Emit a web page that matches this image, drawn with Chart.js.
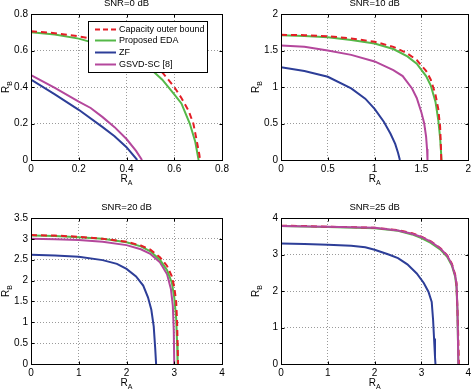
<!DOCTYPE html>
<html>
<head>
<meta charset="utf-8">
<script src="https://cdn.jsdelivr.net/npm/chart.js@4"></script>
<style>
  body { margin: 0; background: #fff; }
  #wrap { position: relative; width: 474px; height: 389px; overflow: hidden; }
  .cell { position: absolute; }
</style>
</head>
<body>
<div id="wrap">
  <div class="cell" style="left:0;top:0"><canvas id="c0" width="237" height="195"></canvas></div>
  <div class="cell" style="left:237px;top:0"><canvas id="c1" width="237" height="195"></canvas></div>
  <div class="cell" style="left:0;top:195px"><canvas id="c2" width="237" height="194"></canvas></div>
  <div class="cell" style="left:237px;top:195px"><canvas id="c3" width="237" height="194"></canvas></div>
</div>
<script>
// series labels / colours
const seriesNames = ['Capacity outer bound', 'Proposed EDA', 'ZF', 'GSVD-SC [8]'];
const seriesColors = ['#e41e26', '#55b848', '#2d3e98', '#b4479c'];
const snrTitles = ['SNR=0 dB', 'SNR=10 dB', 'SNR=20 dB', 'SNR=25 dB'];
const axisMax = [[0.8, 0.8], [2, 2], [4, 3.5], [4, 4]];
const axisStep = [[0.2, 0.2], [0.5, 0.5], [1, 0.5], [1, 1]];

// SNR = 0 dB  [R_A, R_B]
const cap0 = [[0,0.705],[0.1,0.695],[0.2,0.678],[0.3,0.652],[0.4,0.612],[0.45,0.582],[0.5,0.54],[0.55,0.48],[0.6,0.40],[0.63,0.34],[0.66,0.27],[0.68,0.2],[0.695,0.1],[0.705,0.03],[0.708,0]];
const eda0 = [[0,0.7],[0.1,0.688],[0.2,0.665],[0.3,0.628],[0.4,0.58],[0.45,0.548],[0.5,0.5],[0.55,0.44],[0.6,0.36],[0.63,0.31],[0.665,0.2],[0.688,0.1],[0.702,0]];
const zf0 = [[0,0.44],[0.1,0.36],[0.2,0.275],[0.3,0.18],[0.35,0.13],[0.4,0.07],[0.445,0]];
const gsvd0 = [[0,0.465],[0.1,0.395],[0.2,0.32],[0.25,0.285],[0.3,0.235],[0.35,0.18],[0.4,0.115],[0.44,0.05],[0.465,0]];

// SNR = 10 dB
const cap10 = [[0,1.715],[0.25,1.71],[0.5,1.695],[0.75,1.665],[1,1.62],[1.2,1.55],[1.35,1.46],[1.45,1.37],[1.55,1.22],[1.6,1.1],[1.65,0.9],[1.68,0.7],[1.7,0.45],[1.708,0.2],[1.712,0]];
const eda10 = [[0,1.71],[0.25,1.7],[0.5,1.68],[0.75,1.645],[1,1.595],[1.2,1.52],[1.35,1.42],[1.45,1.32],[1.55,1.15],[1.6,1.02],[1.65,0.8],[1.68,0.55],[1.7,0.3],[1.715,0]];
const zf10 = [[0,1.27],[0.25,1.22],[0.5,1.14],[0.75,0.98],[0.9,0.84],[1,0.7],[1.1,0.52],[1.17,0.36],[1.22,0.22],[1.25,0.1],[1.27,0]];
const gsvd10 = [[0,1.57],[0.25,1.55],[0.5,1.5],[0.75,1.44],[1,1.35],[1.2,1.23],[1.3,1.15],[1.4,0.98],[1.45,0.85],[1.5,0.65],[1.53,0.5],[1.55,0.32],[1.56,0.15],[1.565,0]];

// SNR = 20 dB
const cap20 = [[0,3.09],[0.5,3.08],[1,3.05],[1.5,3.0],[2,2.93],[2.3,2.84],[2.5,2.74],[2.7,2.56],[2.85,2.35],[2.95,2.1],[3.0,1.85],[3.04,1.5],[3.06,1.0],[3.07,0.5],[3.08,0]];
const eda20 = [[0,3.08],[0.5,3.07],[1,3.04],[1.5,3.0],[2,2.92],[2.3,2.82],[2.5,2.7],[2.7,2.5],[2.85,2.25],[2.95,1.95],[3.0,1.6],[3.04,1.1],[3.06,0.5],[3.07,0]];
const zf20 = [[0,2.62],[0.5,2.6],[1,2.57],[1.5,2.49],[1.8,2.4],[2,2.28],[2.2,2.1],[2.35,1.88],[2.45,1.6],[2.52,1.3],[2.57,0.9],[2.6,0.4],[2.62,0]];
const gsvd20 = [[0,3.0],[0.5,2.99],[1,2.97],[1.5,2.93],[2,2.85],[2.3,2.75],[2.5,2.64],[2.7,2.44],[2.85,2.15],[2.93,1.8],[2.97,1.4],[2.99,0.8],[3.0,0]];

// SNR = 25 dB
const cap25 = [[0,3.79],[0.5,3.78],[1,3.76],[1.5,3.75],[2,3.73],[2.5,3.67],[2.8,3.58],[3,3.49],[3.2,3.36],[3.4,3.18],[3.55,2.98],[3.65,2.75],[3.72,2.45],[3.75,2.2],[3.77,1.5],[3.79,0.6],[3.8,0]];
const eda25 = [[0,3.78],[1,3.75],[2,3.72],[2.5,3.65],[2.8,3.55],[3,3.45],[3.2,3.32],[3.4,3.14],[3.55,2.94],[3.65,2.7],[3.72,2.4],[3.75,2.1],[3.77,1.4],[3.79,0]];
const zf25 = [[0,3.3],[0.5,3.29],[1,3.27],[1.5,3.24],[1.8,3.2],[2,3.13],[2.3,3.0],[2.5,2.9],[2.7,2.73],[2.9,2.48],[3.05,2.22],[3.15,1.98],[3.22,1.7],[3.25,1.2],[3.27,0.7],[3.29,0.2],[3.3,0]];
const gsvd25 = [[0,3.78],[1,3.76],[2,3.73],[2.5,3.66],[2.8,3.57],[3,3.48],[3.2,3.35],[3.4,3.17],[3.55,2.97],[3.65,2.73],[3.72,2.43],[3.75,2.2],[3.77,1.5],[3.79,0]];

const panelCurves = [
  [cap0, eda0, zf0, gsvd0],
  [cap10, eda10, zf10, gsvd10],
  [cap20, eda20, zf20, gsvd20],
  [cap25, eda25, zf25, gsvd25]
];

const FONT = '"Liberation Sans", Arial, Helvetica, sans-serif';

// label with a subscript, e.g. R_A
function drawSubLabel(ctx, main, sub, x, y, rot) {
  ctx.save();
  ctx.translate(x, y);
  ctx.rotate(rot);
  ctx.font = '10px ' + FONT;
  const wm = ctx.measureText(main).width;
  ctx.font = '7px ' + FONT;
  const ws = ctx.measureText(sub).width;
  const start = -(wm + ws) / 2;
  ctx.textAlign = 'left';
  ctx.textBaseline = 'alphabetic';
  ctx.font = '10px ' + FONT;
  ctx.fillText(main, start, 0);
  ctx.font = '7px ' + FONT;
  ctx.fillText(sub, start + wm, 3);
  ctx.restore();
}

// matlab style ticks: 2 not 2.0
function fmtTick(v) {
  return String(+v.toFixed(2));
}

// box, inner ticks, title, axis labels, legend (matlab look)
const decor = {
  id: 'decor',
  afterDraw(chart) {
    const ctx = chart.ctx;
    const a = chart.chartArea;
    const o = chart.options.plugins.decor;
    const xs = chart.scales.x;
    const ys = chart.scales.y;
    ctx.save();
    ctx.strokeStyle = '#000';
    ctx.lineWidth = 1;
    const L = Math.round(a.left) + 0.5, T = Math.round(a.top) + 0.5;
    const R = Math.round(a.right) + 0.5, B = Math.round(a.bottom) + 0.5;
    ctx.strokeRect(L, T, R - L, B - T);
    ctx.beginPath();
    xs.ticks.forEach(t => {
      const px = Math.round(xs.getPixelForValue(t.value)) + 0.5;
      ctx.moveTo(px, B); ctx.lineTo(px, B - 3);
      ctx.moveTo(px, T); ctx.lineTo(px, T + 3);
    });
    ys.ticks.forEach(t => {
      const py = Math.round(ys.getPixelForValue(t.value)) + 0.5;
      ctx.moveTo(L, py); ctx.lineTo(L + 3, py);
      ctx.moveTo(R, py); ctx.lineTo(R - 3, py);
    });
    ctx.stroke();

    ctx.fillStyle = '#000';
    ctx.font = '9.5px ' + FONT;
    ctx.textAlign = 'center';
    ctx.textBaseline = 'alphabetic';
    ctx.fillText(o.title, (a.left + a.right) / 2, a.top - 8);

    drawSubLabel(ctx, 'R', 'A', (a.left + a.right) / 2, a.bottom + 22, 0);
    drawSubLabel(ctx, 'R', 'B', a.left - 22, (a.top + a.bottom) / 2, -Math.PI / 2);

    if (o.legend) {
      const lg = o.legend;
      ctx.fillStyle = '#fff';
      ctx.fillRect(lg.x, lg.y, lg.w, lg.h);
      ctx.strokeStyle = '#000';
      ctx.strokeRect(lg.x + 0.5, lg.y + 0.5, lg.w, lg.h);
      ctx.font = '9px ' + FONT;
      ctx.textAlign = 'left';
      ctx.textBaseline = 'middle';
      seriesNames.forEach((name, i) => {
        const yy = Math.round(lg.y + 7.5 + i * 11.7) + 0.5;
        ctx.strokeStyle = seriesColors[i];
        ctx.lineWidth = 2;
        ctx.setLineDash(i === 0 ? [5, 3] : []);
        ctx.beginPath();
        ctx.moveTo(lg.x + 7, yy);
        ctx.lineTo(lg.x + 28, yy);
        ctx.stroke();
        ctx.setLineDash([]);
        ctx.fillStyle = '#000';
        ctx.fillText(name, lg.x + 31, yy);
      });
    }
    ctx.restore();
  }
};

const layouts = [
  { yw: 31, xh: 35, pad: { left: 0, right: 15, top: 14, bottom: 0 } },
  { yw: 44, xh: 35, pad: { left: 0, right: 4, top: 14, bottom: 0 } },
  { yw: 31, xh: 25, pad: { left: 0, right: 15, top: 23, bottom: 0 } },
  { yw: 44, xh: 25, pad: { left: 0, right: 4, top: 23, bottom: 0 } }
];

panelCurves.forEach(function(curves, p) {
  const lay = layouts[p];
  const datasets = curves.map(function(pts, i) {
    return {
      label: seriesNames[i],
      data: pts.map(q => ({ x: q[0], y: q[1] })),
      borderColor: seriesColors[i],
      borderWidth: 2,
      borderDash: i === 0 ? [6, 4] : [],
      pointRadius: 0,
      tension: 0,
      fill: false,
      order: (p === 3 && i === 3) ? -1 : i
    };
  });

  const tickFont = { size: 10, family: FONT };
  new Chart(document.getElementById('c' + p), {
    type: 'line',
    data: { datasets: datasets },
    plugins: [decor],
    options: {
      responsive: false,
      animation: false,
      layout: { padding: lay.pad },
      plugins: {
        legend: { display: false },
        tooltip: { enabled: false },
        decor: {
          title: snrTitles[p],
          legend: p === 0 ? { x: 88, y: 21, w: 119, h: 51 } : null
        }
      },
      scales: {
        x: {
          type: 'linear',
          min: 0,
          max: axisMax[p][0],
          ticks: { stepSize: axisStep[p][0], color: '#000', font: tickFont, padding: 3, maxRotation: 0, autoSkip: false, callback: fmtTick },
          grid: { color: '#9a9a9a', drawTicks: false, lineWidth: 1 },
          border: { display: false, dash: [1, 2] },
          afterFit: s => { s.height = lay.xh; }
        },
        y: {
          type: 'linear',
          min: 0,
          max: axisMax[p][1],
          ticks: { stepSize: axisStep[p][1], color: '#000', font: tickFont, padding: 3, autoSkip: false, callback: fmtTick },
          grid: { color: '#9a9a9a', drawTicks: false, lineWidth: 1 },
          border: { display: false, dash: [1, 2] },
          afterFit: s => { s.width = lay.yw; }
        }
      }
    }
  });
});
</script>
</body>
</html>
